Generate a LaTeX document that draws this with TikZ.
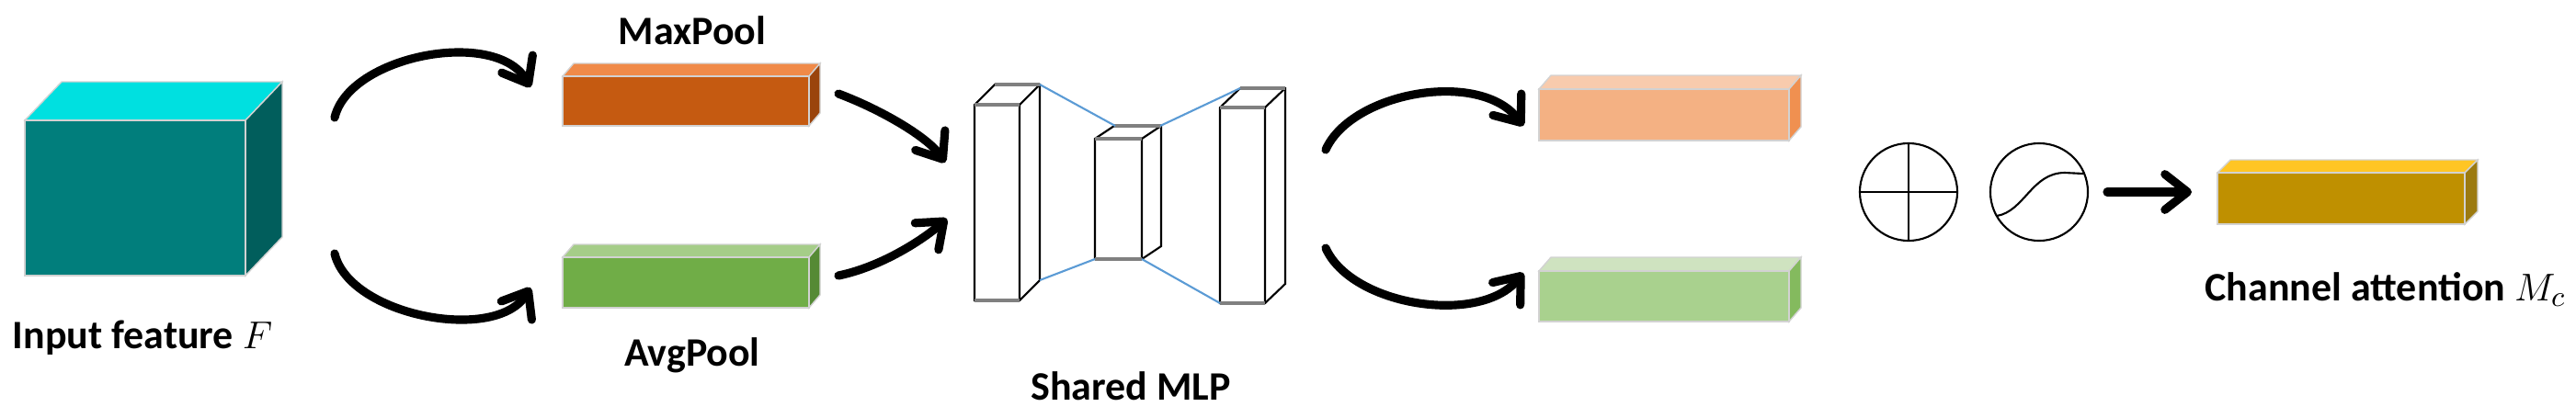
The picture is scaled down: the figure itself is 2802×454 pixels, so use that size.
\documentclass[tikz,border=0pt]{standalone}
\usepackage{fontspec}
\setmainfont{Carlito}
\usetikzlibrary{arrows.meta}
\definecolor{tealF}{HTML}{017E7C}\definecolor{tealT}{HTML}{00E0E0}\definecolor{tealS}{HTML}{015E5C}
\definecolor{orF}{HTML}{C55A11}\definecolor{orT}{HTML}{F08A48}\definecolor{orS}{HTML}{9A440C}
\definecolor{grF}{HTML}{70AD47}\definecolor{grT}{HTML}{A5CD88}\definecolor{grS}{HTML}{558A35}
\definecolor{loF}{HTML}{F4B183}\definecolor{loT}{HTML}{F8CBAD}\definecolor{loS}{HTML}{F09050}
\definecolor{lgF}{HTML}{A9D18E}\definecolor{lgT}{HTML}{CFE3C0}\definecolor{lgS}{HTML}{84BA5E}
\definecolor{yeF}{HTML}{BF9000}\definecolor{yeT}{HTML}{FFC524}\definecolor{yeS}{HTML}{9C7A10}
\definecolor{mlpline}{HTML}{5B9BD5}
% #1 name, #2 x1, #3 y1, #4 x2, #5 y2, #6 dx, #7 dy, #8 front/top/side prefix
\newcommand\mycuboid[8]{%
  \fill[#8T,draw=gray!35,line width=0.4pt] (#2,#3) -- (#2+#6,#3-#7) -- (#4+#6,#3-#7) -- (#4,#3) -- cycle;
  \fill[#8S,draw=gray!35,line width=0.4pt] (#4,#3) -- (#4+#6,#3-#7) -- (#4+#6,#5-#7) -- (#4,#5) -- cycle;
  \fill[#8F,draw=gray!35,line width=0.4pt] (#2,#3) rectangle (#4,#5);
  \coordinate (#1) at ({(#2+#4)/2},{(#3+#5)/2});
}
\newcommand\mylayer[7]{%
  \draw[black,line width=0.6pt,fill=white] (#2,#3) -- (#2+#6,#3-#7) -- (#4+#6,#3-#7) -- (#4+#6,#5-#7) -- (#4,#5) -- (#2,#5) -- cycle;
  \draw[black,line width=0.6pt] (#2,#3) -- (#4,#3) -- (#4,#5) (#4,#3) -- (#4+#6,#3-#7);
  \draw[gray,line width=1.2pt] (#2,#3) -- (#4,#3) (#2+#6,#3-#7) -- (#4+#6,#3-#7) (#2,#5) -- (#4,#5);
  \coordinate (#1) at ({(#2+#4)/2},{(#3+#5)/2});
}
\tikzset{
  lbl/.style={font=\fontsize{12.5}{14}\selectfont\bfseries,inner sep=0pt},
  bigarrow/.style={line width=2.6pt,line cap=round,-{Straight Barb[length=7pt,width=11pt,line width=2.6pt,round]}},
}
\begin{document}
\begin{tikzpicture}[x=0.01cm,y=-0.01cm]
\useasboundingbox (0,0) rectangle (2802,454);
% input cube
\mycuboid{inp}{27}{131}{267}{300}{40}{42}{teal}
\node[lbl,anchor=west] (inplbl) at (13,368) {Input feature $F$};
% pools
\mycuboid{maxp}{612}{83}{880}{137}{12}{14}{or}
\mycuboid{avgp}{612}{280}{880}{335}{12}{14}{gr}
\node[lbl] (maxlbl) at (753,33) {MaxPool};
\node[lbl] (avglbl) at (753,387) {AvgPool};
% arrows input -> pools
\coordinate (a1s) at (364,128); \coordinate (a1e) at (577,95);
\coordinate (a2s) at (364,276); \coordinate (a2e) at (577,313);
\draw[bigarrow] (a1s) .. controls (380,60) and (540,30) .. (a1e);
\draw[bigarrow] (a2s) .. controls (380,344) and (540,374) .. (a2e);
% MLP
\mylayer{l1}{1060}{114}{1109}{327}{22}{22}
\mylayer{l2}{1191}{151}{1242}{282}{21}{14}
\mylayer{l3}{1327}{117}{1376}{330}{22}{21}
\draw[mlpline,line width=0.6pt] (1131,92) -- (1213,137);
\draw[mlpline,line width=0.6pt] (1262,137) -- (1349,96);
\draw[mlpline,line width=0.6pt] (1131,305) -- (1191,282);
\draw[mlpline,line width=0.6pt] (1242,282) -- (1327,330);
\node[lbl] (mlplbl) at (1230,420) {Shared MLP};
% pools -> MLP
\coordinate (b1s) at (912,102); \coordinate (b1e) at (1028,177);
\coordinate (b2s) at (912,300); \coordinate (b2e) at (1030,238);
\draw[bigarrow] (b1s) .. controls (960,120) and (1010,150) .. (b1e);
\draw[bigarrow] (b2s) .. controls (960,290) and (1005,260) .. (b2e);
% MLP -> outputs
\coordinate (c1s) at (1442,163); \coordinate (c1e) at (1657,137);
\coordinate (c2s) at (1442,270); \coordinate (c2e) at (1657,297);
\draw[bigarrow] (c1s) .. controls (1470,100) and (1610,75) .. (c1e);
\draw[bigarrow] (c2s) .. controls (1470,333) and (1610,355) .. (c2e);
\mycuboid{o1}{1674}{97}{1946}{153}{13}{15}{lo}
\mycuboid{o2}{1674}{295}{1946}{350}{13}{15}{lg}
% plus and sigmoid
\node[draw,circle,line width=0.6pt,minimum size=1.06cm,inner sep=0pt] (plus) at (2076,209) {};
\draw[line width=0.6pt] (plus.north) -- (plus.south) (plus.west) -- (plus.east);
\node[draw,circle,line width=0.6pt,minimum size=1.06cm,inner sep=0pt] (sig) at (2218,209) {};
\draw[line width=0.6pt] (2172,235) .. controls (2202,230) and (2210,188) .. (2246,188) -- (2266,189);
\mycuboid{mc}{2412}{188}{2681}{244}{14}{14}{ye}
\draw[bigarrow] (2292,209) -- (2384,209);
\node[lbl,anchor=west] (mclbl) at (2398,315) {Channel attention $M_c$};
\end{tikzpicture}
\end{document}
